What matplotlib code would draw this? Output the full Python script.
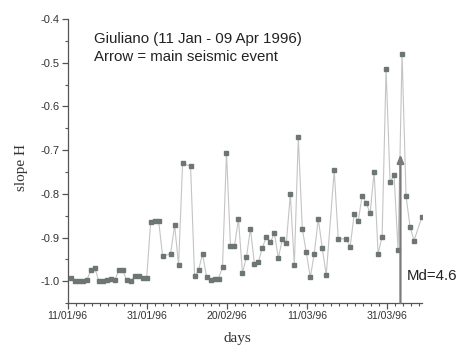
import numpy as np
import matplotlib.pyplot as plt
from matplotlib.ticker import MultipleLocator

# day index counted from 11 Jan 1996 (some days have no value)
days = [0, 1, 2, 3, 4, 5, 6, 7, 8, 9, 10, 11, 12, 13, 14, 15, 16, 17, 18, 19,
        20, 21, 22, 23, 25, 26, 27, 28, 30, 31, 32, 33, 34, 35, 36, 37, 38, 39,
        40, 41, 42, 43, 44, 45, 46, 47, 48, 49, 50, 51, 52, 53, 54, 55, 56, 57,
        58, 59, 60, 61, 62, 63, 64, 66, 67, 69, 70, 71, 72, 73, 74, 75, 76, 77,
        78, 79, 80, 81, 82, 83, 84, 85, 86, 88]
slope = [-0.993, -0.999, -0.999, -0.999, -0.997, -0.975, -0.970, -0.999, -0.999, -0.997,
         -0.996, -0.998, -0.975, -0.975, -0.998, -0.999, -0.989, -0.987, -0.992, -0.992,
         -0.864, -0.863, -0.862, -0.943, -0.937, -0.872, -0.963, -0.730, -0.737, -0.988,
         -0.975, -0.937, -0.990, -0.998, -0.994, -0.994, -0.967, -0.706, -0.920, -0.920,
         -0.858, -0.981, -0.945, -0.880, -0.960, -0.956, -0.923, -0.898, -0.911, -0.890,
         -0.947, -0.904, -0.913, -0.801, -0.963, -0.670, -0.880, -0.934, -0.991, -0.937,
         -0.857, -0.924, -0.986, -0.746, -0.903, -0.903, -0.921, -0.847, -0.863, -0.804,
         -0.820, -0.845, -0.749, -0.937, -0.898, -0.515, -0.773, -0.757, -0.928, -0.479,
         -0.805, -0.875, -0.907, -0.852]

tick_days = [0, 20, 40, 60, 80]
tick_labels = ['11/01/96', '31/01/96', '20/02/96', '11/03/96', '31/03/96']

event_day = 83.4     # main seismic event
event_top = -0.71
event_label = 'Md=4.6'

t = np.array(days) + 0.8   # samples taken late in the day

fig = plt.figure(figsize=(4.74, 3.52), dpi=100)
ax = fig.add_axes([0.1428, 0.139, 0.7475, 0.807])

ax.plot(t, slope, '-', color='#c4c4c4', lw=0.8, zorder=2)
ax.plot(t, slope, 's', color='#6d7575', ms=3.0, mec='#6d7575', zorder=3)

ax.annotate('', xy=(event_day, event_top), xytext=(event_day, -1.05),
            arrowprops=dict(arrowstyle='-|>,head_length=0.6,head_width=0.25',
                            color='#7a7a7a', lw=1.6,
                            mutation_scale=8, shrinkA=0, shrinkB=0),
            zorder=4, annotation_clip=False)
ax.text(85.0, -0.988, event_label, fontsize=10.8, family='Liberation Sans',
        color='#222222', va='center', ha='left')

ax.text(0.074, 0.93, 'Giuliano (11 Jan - 09 Apr 1996)', transform=ax.transAxes,
        fontsize=10.8, family='Liberation Sans', color='#222222', va='center')
ax.text(0.074, 0.866, 'Arrow = main seismic event', transform=ax.transAxes,
        fontsize=10.8, family='Liberation Sans', color='#222222', va='center')

ax.set_xlim(0, 88.8)
ax.set_ylim(-1.05, -0.4)
ax.set_xticks(tick_days)
ax.set_xticklabels(tick_labels)
ax.xaxis.set_minor_locator(MultipleLocator(2))
ax.yaxis.set_major_locator(MultipleLocator(0.1))
ax.yaxis.set_minor_locator(MultipleLocator(0.05))
ax.set_yticklabels(['%.1f' % v for v in ax.get_yticks()])

for s in ['top', 'right']:
    ax.spines[s].set_visible(False)
for s in ['left', 'bottom']:
    ax.spines[s].set_color('#555555')
    ax.spines[s].set_linewidth(0.9)

ax.tick_params(which='major', length=4, width=0.9, color='#555555',
               labelsize=8, labelcolor='#333333', pad=2)
ax.tick_params(axis='x', which='major', labelsize=7.6)
ax.tick_params(which='minor', length=2.2, width=0.8, color='#555555')
for lab in ax.get_xticklabels() + ax.get_yticklabels():
    lab.set_family('Liberation Sans')

fig.text(0.046, 0.525, 'slope H', rotation=90, fontsize=11, family='Liberation Serif',
         color='#333333', ha='center', va='center')
fig.text(0.5, 0.037, 'days', fontsize=11, family='Liberation Serif',
         color='#333333', ha='center', va='center')

fig.savefig('out.png', dpi=100)
